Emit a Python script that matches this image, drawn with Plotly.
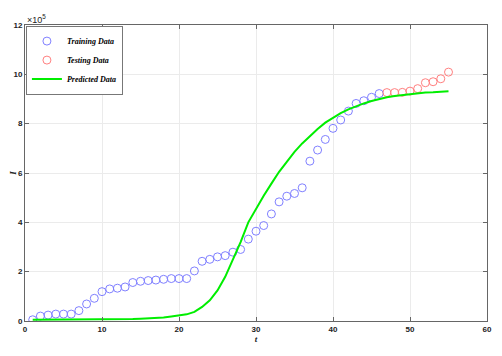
import plotly.graph_objects as go

# values in units of 1e5
train_t = list(range(1, 47))
train_I = [0.05, 0.20, 0.24, 0.28, 0.28, 0.28, 0.42, 0.69, 0.92, 1.19,
           1.30, 1.33, 1.38, 1.56, 1.61, 1.64, 1.66, 1.69, 1.72, 1.72,
           1.72, 2.03, 2.42, 2.50, 2.60, 2.65, 2.79, 2.90, 3.32, 3.64,
           3.87, 4.34, 4.83, 5.06, 5.17, 5.40, 6.48, 6.93, 7.36, 7.81,
           8.15, 8.51, 8.82, 8.93, 9.07, 9.22]
test_t = list(range(47, 56))
test_I = [9.26, 9.26, 9.27, 9.32, 9.42, 9.66, 9.70, 9.82, 10.09]
pred_t = list(range(1, 56))
pred_I = [0.05, 0.05, 0.05, 0.05, 0.05, 0.05, 0.05, 0.05, 0.05, 0.05,
          0.06, 0.06, 0.07, 0.08, 0.09, 0.10, 0.12, 0.14, 0.18, 0.22,
          0.27, 0.37, 0.57, 0.84, 1.24, 1.79, 2.46, 3.20, 4.00, 4.56,
          5.08, 5.57, 6.05, 6.45, 6.86, 7.20, 7.50, 7.78, 8.04, 8.25,
          8.43, 8.58, 8.71, 8.82, 8.92, 9.00, 9.07, 9.12, 9.16, 9.20,
          9.23, 9.26, 9.27, 9.30, 9.31]

legend_font = dict(family="Liberation Serif", size=8, color="black", style="italic", weight="bold")
tick_font = dict(family="Liberation Sans", size=8, color="#222222", weight="bold")
title_font = dict(family="Liberation Serif", size=9, color="#222222", style="italic", weight="bold")

fig = go.Figure()
fig.add_trace(go.Scatter(x=train_t, y=train_I, mode="markers", name="Training Data",
                         marker=dict(symbol="circle-open", size=8, color="#8080ff", line=dict(width=1))))
fig.add_trace(go.Scatter(x=test_t, y=test_I, mode="markers", name="Testing Data",
                         marker=dict(symbol="circle-open", size=8, color="#ff8080", line=dict(width=1))))
fig.add_trace(go.Scatter(x=pred_t, y=pred_I, mode="lines", name="Predicted Data",
                         line=dict(color="#00ee00", width=2)))

axis_common = dict(showline=True, linecolor="#666666", linewidth=1, mirror="ticks",
                   ticks="inside", ticklen=4, tickcolor="#666666",
                   showgrid=True, gridcolor="#ebebeb", gridwidth=1,
                   zeroline=False, tickfont=tick_font, automargin=False)

fig.update_layout(
    width=494, height=348,
    margin=dict(l=17, r=15, t=17, b=35),
    paper_bgcolor="white", plot_bgcolor="white",
    showlegend=True,
    legend=dict(x=0.002, y=0.998, xanchor="left", yanchor="top",
                bgcolor="white", bordercolor="#777777", borderwidth=1,
                font=legend_font, itemwidth=30, tracegroupgap=0),
    xaxis=dict(range=[0, 60], dtick=10,
               title=dict(text="t", font=title_font, standoff=2),
               **axis_common),
    yaxis=dict(range=[0, 12], dtick=2,
               title=dict(text="I", font=title_font, standoff=6),
               **axis_common),
    annotations=[dict(text="×10<sup>5</sup>", x=0, y=1, xref="paper", yref="paper",
                      xanchor="left", yanchor="bottom", showarrow=False, yshift=-2,
                      font=dict(family="Liberation Sans", size=9, color="#222222"))],
)

fig.write_html("out.html")
